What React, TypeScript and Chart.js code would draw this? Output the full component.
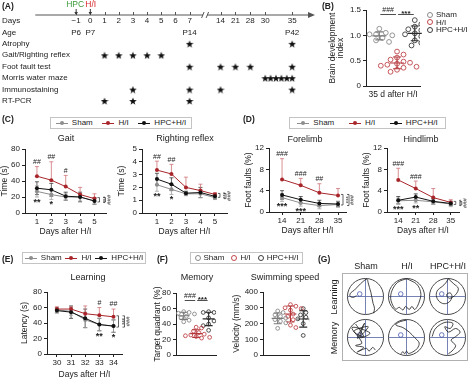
import React, { useEffect, useRef } from 'react';
import { Chart, registerables } from 'chart.js';

Chart.register(...registerables);

const FONT = "'Liberation Sans', Arial, Helvetica, sans-serif";
Chart.defaults.font.family = FONT;
Chart.defaults.color = '#222';

const INK = '#222222';
const C_SHAM = '#8e8e8e';
const C_HI = '#a8262b';
const C_HPC = '#111111';
const C_SHAM_ERR = '#a0a0a0';
const C_HI_ERR = '#cf7276';
const C_HPC_ERR = '#3a3a3a';
const C_DOT_SHAM = '#8a8a8a';
const C_DOT_HI = '#c0464b';
const C_DOT_HPC = '#3c3c3c';

const TICK = 8;
const ATITLE = 8.5;

const groupLabels = ['Sham', 'H/I', 'HPC+H/I'];

// ---------- Panel A : timeline ----------
const timelineRows = ['Days', 'Age', 'Atrophy', 'Gait/Righting reflex', 'Foot fault test', 'Morris water maze', 'Immunostaining', 'RT-PCR'];
const timelineTickDays = [-1, 0, 1, 2, 3, 4, 5, 6, 7, 14, 21, 28, 30, 35];
const ageDays = [-1, 0, 7, 35];
const ageLabels = ['P6', 'P7', 'P14', 'P42'];
const treatmentDays = [-1, 0];
const treatmentLabels = ['HPC', 'H/I'];
const atrophyDays = [7, 35];
const gaitTestDays = [1, 2, 3, 4, 5];
const footFaultDays = [7, 14, 21, 28, 35];
const morrisDays = [30, 31, 32, 33, 34, 35];
const immunoDays = [3, 7, 14, 35];
const rtpcrDays = [1, 3, 7];
// broken timeline axis: anchor days and their axis units
const axisAnchorDays = [-1, 7, 14, 28, 30, 35];
const axisAnchorUnits = [0, 8, 10.18, 12.28, 13.33, 15.23];

// ---------- Panel B ----------
const bdiSham = [1.13, 1.05, 1.02, 1.02, 1.0, 0.97, 0.95, 0.9, 0.87];
const bdiHI = [0.68, 0.62, 0.56, 0.52, 0.48, 0.46, 0.44, 0.42, 0.4, 0.38, 0.36, 0.32, 0.28];
const bdiHPC = [1.3, 1.22, 1.17, 1.12, 1.1, 1.06, 1.04, 1.02, 0.98, 0.95, 0.9, 0.85, 0.8];

// ---------- Panel C ----------
const gaitDays = [1, 2, 3, 4, 5];
const gaitSham = [27, 23, 20, 20, 15];
const gaitShamSd = [7, 6, 4, 5, 4];
const gaitHI = [46, 41, 33, 23, 18];
const gaitHISd = [12, 23, 14, 9, 6];
const gaitHPC = [31, 29, 21, 20, 15];
const gaitHPCSd = [8, 8, 5, 6, 4];
const gaitHash = ['##', '##', '#', '', ''];
const gaitStar = ['**', '*', '', '', ''];

const rightSham = [2.2, 1.85, 1.5, 1.5, 1.2];
const rightShamSd = [0.5, 0.4, 0.15, 0.3, 0.15];
const rightHI = [3.35, 3.05, 2.0, 1.75, 1.45];
const rightHISd = [0.7, 0.75, 0.8, 0.5, 0.15];
const rightHPC = [2.65, 2.25, 1.55, 1.6, 1.3];
const rightHPCSd = [0.45, 0.5, 0.15, 0.4, 0.2];
const rightHash = ['##', '##', '', '', ''];
const rightStar = ['**', '*', '', '', ''];

// ---------- Panel D ----------
const ffDays = [14, 21, 28, 35];
const foreSham = [2.7, 1.7, 1.2, 1.4];
const foreShamSd = [0.7, 0.6, 0.6, 0.5];
const foreHI = [6.1, 5.0, 3.6, 3.1];
const foreHISd = [3.9, 1.3, 1.7, 1.3];
const foreHPC = [3.2, 2.3, 1.6, 1.5];
const foreHPCSd = [0.8, 0.6, 0.6, 0.5];
const foreHash = ['###', '###', '##', ''];
const foreStar = ['***', '***', '', ''];

const hindSham = [2.1, 2.2, 1.9, 1.5];
const hindShamSd = [0.5, 0.5, 0.5, 0.5];
const hindHI = [6.0, 4.4, 2.7, 1.8];
const hindHISd = [2.2, 1.4, 1.7, 0.5];
const hindHPC = [2.2, 2.8, 2.0, 1.6];
const hindHPCSd = [0.7, 0.6, 0.5, 0.4];
const hindHash = ['###', '###', '', ''];
const hindStar = ['***', '**', '', ''];

// ---------- Panel E ----------
const learnDays = [30, 31, 32, 33, 34];
const learnSham = [57, 55, 44, 38, 36];
const learnShamSd = [3, 5, 10, 8, 8];
const learnHI = [58, 58, 52, 50, 48];
const learnHISd = [3, 3, 10, 10, 10];
const learnHPC = [56, 54, 46, 38, 36];
const learnHPCSd = [3, 8, 12, 8, 8];
const learnHash = ['', '', '', '#', '##'];
const learnStar = ['', '', '', '**', '*'];

// ---------- Panel F ----------
const memSham = [56, 55, 54, 53, 52, 50, 48, 45, 43];
const memHI = [36, 35, 31, 29, 27, 26, 25, 24, 23, 22];
const memHPC = [56, 55, 55, 52, 48, 44, 40, 38, 32];
const swimSham = [280, 270, 255, 245, 235, 225, 215, 205, 170];
const swimHI = [320, 310, 300, 295, 285, 260, 245, 225, 190, 175];
const swimHPC = [295, 270, 255, 240, 230, 220, 200, 125];

// ---------- Panel G : swim paths (unit-circle coordinates) ----------
const mazeCols = ['Sham', 'H/I', 'HPC+H/I'];
const mazeRows = ['Learning', 'Memory'];
const mazePlatform = [-0.32, 0.14];
const pathShamLearn = [[-0.5, 0.05], [-0.68, -0.05], [-0.86, 0.02], [-0.82, 0.2], [-0.62, 0.35], [-0.4, 0.58], [-0.15, 0.82], [0.08, 0.96], [0.15, 0.75], [0.22, 0.5], [0.3, 0.22], [0.36, -0.08], [0.42, -0.38], [0.5, -0.65], [0.45, -0.93]];
const pathHILearn = [[0.02, 0.98], [0.3, 0.85], [0.55, 0.7], [0.72, 0.45], [0.8, 0.1], [0.72, -0.25], [0.6, -0.55], [0.45, -0.72], [0.3, -0.55], [0.15, -0.72], [-0.05, -0.55], [-0.2, -0.75], [-0.4, -0.6], [-0.6, -0.7], [-0.8, -0.4], [-0.88, 0.0], [-0.75, 0.45], [-0.5, 0.78], [-0.2, 0.92], [0.02, 0.98]];
const pathHPCLearn = [[0.05, 0.98], [-0.1, 0.75], [-0.3, 0.55], [-0.55, 0.35], [-0.62, 0.05], [-0.48, -0.25], [-0.2, -0.4], [0.1, -0.3], [0.25, 0.0], [0.15, 0.2], [-0.05, 0.1], [0.1, -0.1], [0.45, 0.1], [0.6, 0.45], [0.35, 0.7], [0.05, 0.98]];
const pathShamMem = [[-0.55, 0.75], [-0.1, 0.05], [-0.65, 0.35], [0.15, 0.6], [-0.45, -0.05], [-0.05, 0.8], [-0.3, 0.0], [0.25, 0.25], [-0.75, 0.55], [-0.2, -0.3], [-0.55, -0.45], [-0.1, -0.55], [-0.45, -0.8], [0.05, -0.6], [0.2, -0.75], [0.4, -0.55], [0.55, -0.7]];
const pathHIMem = [[0.0, 0.96], [-0.35, 0.88], [-0.6, 0.7], [-0.2, 0.55], [0.15, 0.3], [0.45, 0.0], [0.7, -0.3], [0.6, -0.6], [0.35, -0.8], [0.1, -0.88], [0.0, -0.75], [-0.1, -0.9], [-0.2, -0.78], [-0.3, -0.9]];
const pathHPCMem = [[-0.85, 0.05], [-0.7, 0.45], [-0.4, 0.72], [-0.05, 0.85], [0.3, 0.78], [0.15, 0.5], [-0.15, 0.6], [0.05, 0.3], [0.45, 0.5], [0.7, 0.3], [0.45, 0.05], [0.2, -0.15], [0.45, -0.45], [0.25, -0.75], [0.05, -0.9]];
const mazePaths = [[pathShamLearn, pathHILearn, pathHPCLearn], [pathShamMem, pathHIMem, pathHPCMem]];

// ================= helpers =================
type Area = { L: number; T: number; R: number; B: number };

function dayToUnit(d: number) {
  const ds = axisAnchorDays, us = axisAnchorUnits;
  if (d <= ds[0]) return us[0] + (d - ds[0]);
  for (let i = 1; i < ds.length; i++) {
    if (d <= ds[i]) {
      const t = (d - ds[i - 1]) / (ds[i] - ds[i - 1]);
      return us[i - 1] + t * (us[i] - us[i - 1]);
    }
  }
  const n = ds.length - 1;
  return us[n] + ((d - ds[n]) * (us[n] - us[n - 1])) / (ds[n] - ds[n - 1]);
}

function makeStar(size: number) {
  const c = document.createElement('canvas');
  c.width = size;
  c.height = size;
  const g = c.getContext('2d') as CanvasRenderingContext2D;
  g.fillStyle = '#111';
  g.beginPath();
  const cx = size / 2, cy = size / 2 + 0.4, ro = size / 2, ri = ro * 0.42;
  for (let k = 0; k < 10; k++) {
    const r = k % 2 === 0 ? ro : ri;
    const a = -Math.PI / 2 + (k * Math.PI) / 5;
    g.lineTo(cx + r * Math.cos(a), cy + r * Math.sin(a));
  }
  g.closePath();
  g.fill();
  return c;
}

// deterministic beeswarm layout of the dots of one group
function swarm(values: number[], center: number, pxPerY: number, pxPerX: number, diam: number) {
  const placed: { x: number; y: number }[] = [];
  const sorted = values.slice().sort((a, b) => b - a);
  for (const v of sorted) {
    const py = v * pxPerY;
    let chosen = 0;
    for (let k = 0; k < 30; k++) {
      const off = k === 0 ? 0 : (k % 2 === 1 ? 1 : -1) * Math.ceil(k / 2) * diam * 0.55;
      if (placed.every((p) => Math.hypot(p.x - off, p.y - py) >= diam * 0.95)) {
        chosen = off;
        break;
      }
    }
    placed.push({ x: chosen, y: py });
  }
  return placed.map((p) => ({ x: center + p.x / pxPerX, y: p.y / pxPerY }));
}

function canvasBox(a: Area, yW: number, xH: number, padTop: number, padRight: number, padBottom: number) {
  const left = a.L - yW;
  const top = a.T - padTop;
  return { left, top, width: a.R + padRight - left, height: a.B + xH + padBottom - top };
}

const axisGrid = { display: true, drawOnChartArea: false, drawTicks: true, tickLength: 3, color: INK, lineWidth: 1 };
const axisBorder = { display: true, color: INK, width: 1 };

// ================= plugins =================
const timelinePlugin = {
  id: 'timeline',
  afterDraw(chart: any) {
    const { ctx, chartArea: ca, scales } = chart;
    const x = scales.x, y = scales.y;
    const ly = ca.top - 6;
    const startX = x.getPixelForValue(dayToUnit(-1) - 2.88);
    ctx.save();
    ctx.strokeStyle = '#555';
    ctx.fillStyle = '#555';
    ctx.lineWidth = 1;
    ctx.beginPath();
    ctx.moveTo(startX, ly);
    ctx.lineTo(ca.right - 6, ly);
    ctx.stroke();
    ctx.beginPath();
    ctx.moveTo(ca.right, ly);
    ctx.lineTo(ca.right - 7, ly - 3);
    ctx.lineTo(ca.right - 7, ly + 3);
    ctx.closePath();
    ctx.fill();
    ctx.beginPath();
    for (const d of timelineTickDays) {
      const px = Math.round(x.getPixelForValue(dayToUnit(d))) + 0.5;
      ctx.moveTo(px, ly - 3);
      ctx.lineTo(px, ly);
    }
    ctx.stroke();
    // axis break
    const bx = x.getPixelForValue((dayToUnit(7) + dayToUnit(14)) / 2);
    ctx.fillStyle = '#fff';
    ctx.fillRect(bx - 2, ly - 2, 4, 4);
    ctx.beginPath();
    ctx.moveTo(bx - 3.5, ly + 3);
    ctx.lineTo(bx - 1, ly - 3);
    ctx.moveTo(bx + 1, ly + 3);
    ctx.lineTo(bx + 3.5, ly - 3);
    ctx.stroke();
    // day and age labels
    ctx.fillStyle = INK;
    ctx.font = `8px ${FONT}`;
    ctx.textAlign = 'center';
    ctx.textBaseline = 'middle';
    const yDays = y.getPixelForValue(0), yAge = y.getPixelForValue(1);
    for (const d of timelineTickDays) {
      ctx.fillText(d < 0 ? '\u2212' + Math.abs(d) : String(d), x.getPixelForValue(dayToUnit(d)), yDays);
    }
    ageDays.forEach((d, i) => ctx.fillText(ageLabels[i], x.getPixelForValue(dayToUnit(d)), yAge));
    // treatments
    const tColors = ['#3a9a3a', '#d8262c'];
    ctx.font = `8.5px ${FONT}`;
    treatmentDays.forEach((d, i) => {
      const px = x.getPixelForValue(dayToUnit(d));
      ctx.fillStyle = tColors[i];
      ctx.textAlign = i === 0 ? 'right' : 'left';
      ctx.fillText(treatmentLabels[i], i === 0 ? px + 8 : px - 5, 4.5);
      ctx.strokeStyle = '#333';
      ctx.fillStyle = '#333';
      ctx.beginPath();
      ctx.moveTo(px, 9);
      ctx.lineTo(px, ly - 1);
      ctx.stroke();
      ctx.beginPath();
      ctx.moveTo(px, ly);
      ctx.lineTo(px - 1.8, ly - 3);
      ctx.lineTo(px + 1.8, ly - 3);
      ctx.closePath();
      ctx.fill();
    });
    ctx.restore();
  },
};

const errorBarPlugin = {
  id: 'errbars',
  beforeDatasetsDraw(chart: any) {
    const { ctx } = chart;
    const y = chart.scales.y;
    chart.data.datasets.forEach((ds: any, i: number) => {
      if (!ds.sd) return;
      const meta = chart.getDatasetMeta(i);
      ctx.save();
      ctx.strokeStyle = ds.errColor;
      ctx.lineWidth = 0.8;
      meta.data.forEach((pt: any, j: number) => {
        const v = ds.data[j].y, s = ds.sd[j];
        const top = y.getPixelForValue(v + (ds.dir !== 'down' ? s : 0));
        const bot = y.getPixelForValue(v - (ds.dir !== 'up' ? s : 0));
        ctx.beginPath();
        ctx.moveTo(pt.x, top);
        ctx.lineTo(pt.x, bot);
        if (ds.dir !== 'down') {
          ctx.moveTo(pt.x - 2, top);
          ctx.lineTo(pt.x + 2, top);
        }
        if (ds.dir !== 'up') {
          ctx.moveTo(pt.x - 2, bot);
          ctx.lineTo(pt.x + 2, bot);
        }
        ctx.stroke();
      });
      ctx.restore();
    });
  },
};

const lineMarksPlugin = {
  id: 'linemarks',
  afterDatasetsDraw(chart: any, _a: any, opts: any) {
    const { ctx } = chart;
    const x = chart.scales.x, y = chart.scales.y;
    const dss = chart.data.datasets as any[];
    const hi = dss.find((d) => d.role === 'hi');
    const others = dss.filter((d) => d.role !== 'hi');
    if (!hi || !opts) return;
    ctx.save();
    ctx.fillStyle = INK;
    ctx.textAlign = 'center';
    hi.data.forEach((p: any, j: number) => {
      const px = x.getPixelForValue(p.x);
      const h = opts.hash && opts.hash[j];
      if (h) {
        ctx.font = `7px ${FONT}`;
        ctx.textBaseline = 'bottom';
        ctx.fillText(h, px, y.getPixelForValue(p.y + hi.sd[j]) - 1);
      }
      const s = opts.star && opts.star[j];
      if (s) {
        const low = Math.max(...others.map((d) => y.getPixelForValue(d.data[j].y - (d.dir === 'up' ? 0 : d.sd[j]))));
        ctx.font = `bold 9px ${FONT}`;
        ctx.textBaseline = 'top';
        ctx.fillText(s, px, low + 1);
      }
    });
    if (opts.right) {
      const n = hi.data.length - 1;
      const px = x.getPixelForValue(hi.data[n].x);
      const yHi = y.getPixelForValue(hi.data[n].y);
      const ys = others.map((d) => y.getPixelForValue(d.data[n].y));
      const bracket = (bx: number, y1: number, y2: number, text: string) => {
        const top = Math.min(y1, y2) - 1, bot = Math.max(y1, y2) + 1;
        ctx.strokeStyle = INK;
        ctx.lineWidth = 0.7;
        ctx.beginPath();
        ctx.moveTo(bx - 2, top);
        ctx.lineTo(bx, top);
        ctx.lineTo(bx, bot);
        ctx.lineTo(bx - 2, bot);
        ctx.stroke();
        ctx.save();
        ctx.translate(bx + 3, (top + bot) / 2);
        ctx.rotate(Math.PI / 2);
        ctx.font = `6px ${FONT}`;
        ctx.textBaseline = 'middle';
        ctx.fillText(text, 0, 0);
        ctx.restore();
      };
      bracket(px + 5, yHi, ys[0], opts.right[0]);
      bracket(px + 11, yHi, ys[1], opts.right[1]);
    }
    ctx.restore();
  },
};

const meanSdPlugin = {
  id: 'meansd',
  afterDatasetsDraw(chart: any, _a: any, opts: any) {
    const { ctx } = chart;
    const x = chart.scales.x, y = chart.scales.y;
    ctx.save();
    chart.data.datasets.forEach((ds: any) => {
      const vals: number[] = ds.values;
      const n = vals.length;
      const m = vals.reduce((a, b) => a + b, 0) / n;
      const sd = Math.sqrt(vals.reduce((a, b) => a + (b - m) * (b - m), 0) / (n - 1));
      const px = x.getPixelForValue(ds.group);
      const pm = y.getPixelForValue(m), pt = y.getPixelForValue(m + sd), pb = y.getPixelForValue(m - sd);
      ctx.strokeStyle = ds.lineColor;
      ctx.lineWidth = 1.1;
      ctx.beginPath();
      ctx.moveTo(px - opts.meanHalf, pm);
      ctx.lineTo(px + opts.meanHalf, pm);
      ctx.moveTo(px, pt);
      ctx.lineTo(px, pb);
      ctx.moveTo(px - opts.capHalf, pt);
      ctx.lineTo(px + opts.capHalf, pt);
      ctx.moveTo(px - opts.capHalf, pb);
      ctx.lineTo(px + opts.capHalf, pb);
      ctx.stroke();
    });
    if (opts.sigs) {
      const py = Math.round(y.getPixelForValue(opts.sigY)) + 0.5;
      ctx.fillStyle = INK;
      ctx.strokeStyle = INK;
      ctx.lineWidth = 0.8;
      ctx.textAlign = 'center';
      ctx.textBaseline = 'bottom';
      opts.sigs.forEach((s: any) => {
        const a = x.getPixelForValue(s.from) + 1, b = x.getPixelForValue(s.to) - 1;
        ctx.beginPath();
        ctx.moveTo(a, py);
        ctx.lineTo(b, py);
        ctx.stroke();
        ctx.font = s.text.indexOf('*') >= 0 ? `bold 8px ${FONT}` : `7px ${FONT}`;
        ctx.fillText(s.text, (a + b) / 2, s.text.indexOf('*') >= 0 ? py + 3 : py - 0.5);
      });
    }
    ctx.restore();
  },
};

const mazePlugin = {
  id: 'maze',
  beforeDatasetsDraw(chart: any) {
    const { ctx } = chart;
    const x = chart.scales.x, y = chart.scales.y;
    const R = 0.44;
    const rPx = x.getPixelForValue(R) - x.getPixelForValue(0);
    ctx.save();
    mazeRows.forEach((_r, ri) => {
      mazeCols.forEach((_c, ci) => {
        const cx = x.getPixelForValue(ci + 0.5), cy = y.getPixelForValue(1 - ri + 0.5);
        ctx.strokeStyle = '#6574aa';
        ctx.lineWidth = 0.9;
        ctx.beginPath();
        ctx.moveTo(cx - rPx, cy);
        ctx.lineTo(cx + rPx, cy);
        ctx.moveTo(cx, cy - rPx);
        ctx.lineTo(cx, cy + rPx);
        ctx.stroke();
        ctx.strokeStyle = '#4a4a4a';
        ctx.lineWidth = 1;
        ctx.beginPath();
        ctx.arc(cx, cy, rPx, 0, Math.PI * 2);
        ctx.stroke();
        ctx.strokeStyle = '#4a5ab0';
        ctx.lineWidth = 0.8;
        ctx.beginPath();
        ctx.arc(cx + mazePlatform[0] * rPx, cy - mazePlatform[1] * rPx, 2.3, 0, Math.PI * 2);
        ctx.stroke();
      });
    });
    ctx.restore();
  },
};

// ================= chart configs =================
function timelineConfig() {
  const star = makeStar(8);
  const rows: [string, number[]][] = [
    ['Atrophy', atrophyDays],
    ['Gait/Righting reflex', gaitTestDays],
    ['Foot fault test', footFaultDays],
    ['Morris water maze', morrisDays],
    ['Immunostaining', immunoDays],
    ['RT-PCR', rtpcrDays],
  ];
  return {
    type: 'scatter',
    data: {
      datasets: rows.map(([row, days]) => ({
        data: days.map((d) => ({ x: dayToUnit(d), y: row })),
        pointStyle: star,
        pointRadius: 4,
        clip: false,
      })),
    },
    options: {
      animation: false,
      responsive: false,
      events: [],
      layout: { padding: { left: 2, right: 4, top: 21, bottom: 9 } },
      plugins: { legend: { display: false }, tooltip: { enabled: false } },
      scales: {
        x: { type: 'linear', display: false, min: 2.175, max: 16.84 },
        y: {
          type: 'category',
          labels: timelineRows,
          offset: false,
          grid: { display: false },
          border: { display: false },
          ticks: { crossAlign: 'far', padding: 0, autoSkip: false, font: { size: 8 }, color: INK },
          afterFit: (s: any) => { s.width = 105; },
        },
      },
    },
    plugins: [timelinePlugin],
  };
}

type SeriesSpec = { label: string; role: string; values: number[]; sd: number[]; color: string; errColor: string; dir: string };

function series(values: number[][], sds: number[][]): SeriesSpec[] {
  // order: HPC+H/I, H/I, Sham (first drawn on top)
  return [
    { label: groupLabels[2], role: 'hpc', values: values[2], sd: sds[2], color: C_HPC, errColor: C_HPC_ERR, dir: 'both' },
    { label: groupLabels[1], role: 'hi', values: values[1], sd: sds[1], color: C_HI, errColor: C_HI_ERR, dir: 'up' },
    { label: groupLabels[0], role: 'sham', values: values[0], sd: sds[0], color: C_SHAM, errColor: C_SHAM_ERR, dir: 'both' },
  ];
}

function lineConfig(p: {
  xs: number[]; xMin: number; xMax: number; yMax: number; yStep: number; yTitle: string; xTitle: string;
  ser: SeriesSpec[]; hash: string[]; star: string[]; yW: number; xH: number; padTop: number; padRight: number;
}) {
  return {
    type: 'line',
    data: {
      datasets: p.ser.map((s) => ({
        label: s.label,
        role: s.role,
        sd: s.sd,
        dir: s.dir,
        errColor: s.errColor,
        data: p.xs.map((x, i) => ({ x, y: s.values[i] })),
        borderColor: s.color,
        backgroundColor: s.color,
        borderWidth: 1,
        pointRadius: 2,
        pointBorderWidth: 0,
        tension: 0,
      })),
    },
    options: {
      animation: false,
      responsive: false,
      events: [],
      layout: { padding: { left: 0, top: p.padTop, right: p.padRight, bottom: 2 } },
      plugins: {
        legend: { display: false },
        tooltip: { enabled: false },
        linemarks: { hash: p.hash, star: p.star, right: ['***', '###'] },
      },
      scales: {
        x: {
          type: 'linear',
          min: p.xMin,
          max: p.xMax,
          afterBuildTicks: (s: any) => { s.ticks = p.xs.map((v) => ({ value: v })); },
          afterFit: (s: any) => { s.height = p.xH; },
          grid: axisGrid,
          border: axisBorder,
          ticks: { padding: 1, autoSkip: false, maxRotation: 0, font: { size: TICK }, color: INK },
          title: { display: true, text: p.xTitle, padding: 0, font: { size: ATITLE }, color: INK },
        },
        y: {
          type: 'linear',
          min: 0,
          max: p.yMax,
          afterFit: (s: any) => { s.width = p.yW; },
          grid: axisGrid,
          border: axisBorder,
          ticks: { stepSize: p.yStep, padding: 2, font: { size: TICK }, color: INK },
          title: { display: true, text: p.yTitle, padding: 0, font: { size: ATITLE }, color: INK },
        },
      },
    },
    plugins: [errorBarPlugin, lineMarksPlugin],
  };
}

function dotConfig(p: {
  area: Area; groups: number[][]; xMin: number; xMax: number; yMax: number; yStep: number; yTitle: string | string[];
  xTitle: string; sigY: number; diam: number; yW: number; xH: number; padTop: number; padRight: number;
  meanHalf: number; capHalf: number; fmt?: (v: number) => string; titleLH?: number;
}) {
  const pxPerY = (p.area.B - p.area.T) / p.yMax;
  const pxPerX = (p.area.R - p.area.L) / (p.xMax - p.xMin);
  const dotColors = [C_DOT_SHAM, C_DOT_HI, C_DOT_HPC];
  const lineColors = ['#7a7a7a', '#b4373c', '#2a2a2a'];
  return {
    type: 'scatter',
    data: {
      datasets: p.groups.map((vals, i) => ({
        label: groupLabels[i],
        values: vals,
        group: i + 1,
        lineColor: lineColors[i],
        data: swarm(vals, i + 1, pxPerY, pxPerX, p.diam),
        pointRadius: p.diam / 2 - 0.6,
        pointBorderWidth: 0.9,
        borderColor: dotColors[i],
        backgroundColor: 'rgba(255,255,255,0)',
      })),
    },
    options: {
      animation: false,
      responsive: false,
      events: [],
      layout: { padding: { left: 0, top: p.padTop, right: p.padRight, bottom: 2 } },
      plugins: {
        legend: { display: false },
        tooltip: { enabled: false },
        meansd: {
          meanHalf: p.meanHalf,
          capHalf: p.capHalf,
          sigY: p.sigY,
          sigs: p.sigY > 0 ? [{ from: 1, to: 2, text: '###' }, { from: 2, to: 3, text: '***' }] : null,
        },
      },
      scales: {
        x: {
          type: 'linear',
          min: p.xMin,
          max: p.xMax,
          afterFit: (s: any) => { s.height = p.xH; },
          grid: { display: false },
          border: axisBorder,
          ticks: { display: false },
          title: { display: !!p.xTitle, text: p.xTitle, padding: 0, font: { size: ATITLE }, color: INK },
        },
        y: {
          type: 'linear',
          min: 0,
          max: p.yMax,
          afterFit: (s: any) => { s.width = p.yW; },
          grid: axisGrid,
          border: axisBorder,
          ticks: { stepSize: p.yStep, padding: 2, font: { size: TICK }, color: INK, callback: p.fmt || ((v: any) => String(v)) },
          title: { display: true, text: p.yTitle, padding: 0, font: { size: ATITLE, lineHeight: p.titleLH || 1.2 }, color: INK },
        },
      },
    },
    plugins: [meanSdPlugin],
  };
}

function mazeConfig() {
  const R = 0.44;
  const datasets: any[] = [];
  mazePaths.forEach((row, ri) => {
    row.forEach((path, ci) => {
      datasets.push({
        data: path.map(([px, py]) => ({ x: ci + 0.5 + px * R, y: 1 - ri + 0.5 + py * R })),
        showLine: true,
        pointRadius: 0,
        borderColor: '#1a1a1a',
        borderWidth: 0.8,
        tension: 0.35,
      });
    });
  });
  return {
    type: 'scatter',
    data: { datasets },
    options: {
      animation: false,
      responsive: false,
      events: [],
      layout: { padding: 0 },
      plugins: { legend: { display: false }, tooltip: { enabled: false } },
      scales: {
        x: { type: 'linear', display: false, min: 0, max: 3 },
        y: { type: 'linear', display: false, min: 0, max: 2 },
      },
    },
    plugins: [mazePlugin],
  };
}

// ================= React =================
function ChartCanvas(props: { left: number; top: number; width: number; height: number; build: () => any }) {
  const ref = useRef<HTMLCanvasElement>(null);
  useEffect(() => {
    const chart = new Chart(ref.current as HTMLCanvasElement, props.build());
    return () => chart.destroy();
  }, []);
  return (
    <canvas
      ref={ref}
      width={props.width}
      height={props.height}
      style={{ position: 'absolute', left: props.left, top: props.top, width: props.width, height: props.height }}
    />
  );
}

function Txt(props: { x: number; y: number; children: any; size?: number; bold?: boolean; color?: string; anchor?: string; rotate?: number }) {
  const { x, y, size = 9, bold = false, color = INK, anchor = 'center', rotate = 0 } = props;
  const tx = anchor === 'center' ? '-50%' : anchor === 'left' ? '0' : '-100%';
  return (
    <div
      style={{
        position: 'absolute', left: x, top: y, transform: `translate(${tx}, -50%) rotate(${rotate}deg)`,
        fontSize: size, fontWeight: bold ? 700 : 400, color, whiteSpace: 'nowrap', lineHeight: 1,
      }}
    >
      {props.children}
    </div>
  );
}

const legendLineColors = [C_SHAM, C_HI, C_HPC];
const legendDotColors = [C_DOT_SHAM, C_DOT_HI, C_DOT_HPC];

function LineMark({ color }: { color: string }) {
  return (
    <span style={{ position: 'relative', display: 'inline-block', width: 12, height: 6, marginRight: 4 }}>
      <span style={{ position: 'absolute', left: 0, right: 0, top: 2.5, height: 1, background: color }} />
      <span style={{ position: 'absolute', left: 4, top: 1, width: 4, height: 4, borderRadius: 2, background: color }} />
    </span>
  );
}

function CircleMark({ color }: { color: string }) {
  return <span style={{ display: 'inline-block', width: 4, height: 4, border: `1px solid ${color}`, borderRadius: '50%', marginRight: 3 }} />;
}

function LegendBox(props: { left: number; top: number; width: number; circles?: boolean }) {
  return (
    <div
      style={{
        position: 'absolute', left: props.left, top: props.top, width: props.width, height: 12, boxSizing: 'border-box',
        border: '1px solid #c4c4c4', display: 'flex', alignItems: 'center', justifyContent: 'space-around', fontSize: 8, lineHeight: '10px',
      }}
    >
      {groupLabels.map((g, i) => (
        <span key={g} style={{ display: 'flex', alignItems: 'center' }}>
          {props.circles ? <CircleMark color={legendDotColors[i]} /> : <LineMark color={legendLineColors[i]} />}
          {g}
        </span>
      ))}
    </div>
  );
}

export default function App() {
  const gaitArea: Area = { L: 25, T: 149, R: 106, B: 213 };
  const rightArea: Area = { L: 142, T: 149, R: 227, B: 213 };
  const foreArea: Area = { L: 269, T: 148, R: 346, B: 212 };
  const hindArea: Area = { L: 387, T: 148, R: 459, B: 212 };
  const learnArea: Area = { L: 47, T: 292, R: 122, B: 356 };
  const bArea: Area = { L: 366, T: 10, R: 421, B: 86 };
  const memArea: Area = { L: 176, T: 293, R: 217, B: 356 };
  const swimArea: Area = { L: 263, T: 292, R: 310, B: 356 };

  const gaitBox = canvasBox(gaitArea, 25, 24, 12, 14, 2);
  const rightBox = canvasBox(rightArea, 25, 24, 12, 14, 2);
  const foreBox = canvasBox(foreArea, 25, 24, 12, 14, 2);
  const hindBox = canvasBox(hindArea, 25, 24, 12, 13, 2);
  const learnBox = canvasBox(learnArea, 27, 26, 12, 14, 0);
  const bBox = canvasBox(bArea, 38, 14, 10, 4, 2);
  const memBox = canvasBox(memArea, 23, 4, 12, 4, 2);
  const swimBox = canvasBox(swimArea, 31, 4, 12, 4, 2);

  return (
    <div style={{ position: 'fixed', left: 0, top: 0, width: 474, height: 382, background: '#fff', fontFamily: FONT, color: INK, overflow: 'hidden' }}>
      {/* Panel A */}
      <ChartCanvas left={0} top={0} width={320} height={110} build={timelineConfig} />
      <Txt x={2} y={6} anchor="left" bold size={8.5}>(A)</Txt>

      {/* Panel B */}
      <ChartCanvas
        {...bBox}
        build={() =>
          dotConfig({
            area: bArea, groups: [bdiSham, bdiHI, bdiHPC], xMin: 0.25, xMax: 3.3, yMax: 1.5, yStep: 0.5,
            yTitle: ['Brain development', 'index'], xTitle: '35 d after H/I', sigY: 1.42, diam: 6, yW: 38, xH: 14,
            padTop: 10, padRight: 4, meanHalf: 7, capHalf: 4, titleLH: 1.0,
            fmt: (v: number) => (v === 0 ? '0' : Number(v).toFixed(1)),
          })
        }
      />
      <Txt x={322} y={6} anchor="left" bold size={8.5}>(B)</Txt>
      {groupLabels.map((g, i) => (
        <div key={g} style={{ position: 'absolute', left: 427, top: 10 + i * 7.5, display: 'flex', alignItems: 'center', fontSize: 8, lineHeight: '9px' }}>
          <CircleMark color={legendDotColors[i]} />
          {g}
        </div>
      ))}

      {/* Panel C */}
      <Txt x={2} y={119} anchor="left" bold size={8.5}>(C)</Txt>
      <LegendBox left={50} top={117} width={142} />
      <Txt x={66} y={138}>Gait</Txt>
      <Txt x={185} y={138}>Righting reflex</Txt>
      <ChartCanvas
        {...gaitBox}
        build={() =>
          lineConfig({
            xs: gaitDays, xMin: 0.17, xMax: 5.8, yMax: 80, yStep: 20, yTitle: 'Time (s)', xTitle: 'Days after H/I',
            ser: series([gaitSham, gaitHI, gaitHPC], [gaitShamSd, gaitHISd, gaitHPCSd]), hash: gaitHash, star: gaitStar,
            yW: 25, xH: 24, padTop: 12, padRight: 14,
          })
        }
      />
      <ChartCanvas
        {...rightBox}
        build={() =>
          lineConfig({
            xs: gaitDays, xMin: -0.03, xMax: 5.83, yMax: 5, yStep: 1, yTitle: 'Time (s)', xTitle: 'Days after H/I',
            ser: series([rightSham, rightHI, rightHPC], [rightShamSd, rightHISd, rightHPCSd]), hash: rightHash, star: rightStar,
            yW: 25, xH: 24, padTop: 12, padRight: 14,
          })
        }
      />

      {/* Panel D */}
      <Txt x={243} y={119} anchor="left" bold size={8.5}>(D)</Txt>
      <LegendBox left={289} top={117} width={157} />
      <Txt x={305} y={139}>Forelimb</Txt>
      <Txt x={421} y={139}>Hindlimb</Txt>
      <ChartCanvas
        {...foreBox}
        build={() =>
          lineConfig({
            xs: ffDays, xMin: 9.1, xMax: 38, yMax: 12, yStep: 4, yTitle: 'Foot faults (%)', xTitle: 'Days after H/I',
            ser: series([foreSham, foreHI, foreHPC], [foreShamSd, foreHISd, foreHPCSd]), hash: foreHash, star: foreStar,
            yW: 25, xH: 24, padTop: 12, padRight: 14,
          })
        }
      />
      <ChartCanvas
        {...hindBox}
        build={() =>
          lineConfig({
            xs: ffDays, xMin: 9.5, xMax: 38.3, yMax: 12, yStep: 4, yTitle: 'Foot faults (%)', xTitle: 'Days after H/I',
            ser: series([hindSham, hindHI, hindHPC], [hindShamSd, hindHISd, hindHPCSd]), hash: hindHash, star: hindStar,
            yW: 25, xH: 24, padTop: 12, padRight: 13,
          })
        }
      />

      {/* Panel E */}
      <Txt x={2} y={259} anchor="left" bold size={8.5}>(E)</Txt>
      <LegendBox left={22} top={252} width={124} />
      <Txt x={88} y={277}>Learning</Txt>
      <ChartCanvas
        {...learnBox}
        build={() =>
          lineConfig({
            xs: learnDays, xMin: 29.3, xMax: 34.6, yMax: 80, yStep: 20, yTitle: 'Latency (s)', xTitle: 'Days after H/I',
            ser: series([learnSham, learnHI, learnHPC], [learnShamSd, learnHISd, learnHPCSd]), hash: learnHash, star: learnStar,
            yW: 27, xH: 26, padTop: 12, padRight: 14,
          })
        }
      />

      {/* Panel F */}
      <Txt x={157} y={259} anchor="left" bold size={8.5}>(F)</Txt>
      <LegendBox left={190} top={252} width={113} circles />
      <Txt x={197} y={277}>Memory</Txt>
      <Txt x={285} y={277}>Swimming speed</Txt>
      <ChartCanvas
        {...memBox}
        build={() =>
          dotConfig({
            area: memArea, groups: [memSham, memHI, memHPC], xMin: 0.38, xMax: 3.6, yMax: 80, yStep: 20,
            yTitle: 'Target quadrant (%)', xTitle: '', sigY: 71, diam: 5, yW: 23, xH: 4, padTop: 12, padRight: 4,
            meanHalf: 6, capHalf: 4,
          })
        }
      />
      <ChartCanvas
        {...swimBox}
        build={() =>
          dotConfig({
            area: swimArea, groups: [swimSham, swimHI, swimHPC], xMin: -0.15, xMax: 3.46, yMax: 400, yStep: 100,
            yTitle: 'Velocity (mm/s)', xTitle: '', sigY: 0, diam: 5, yW: 31, xH: 4, padTop: 12, padRight: 4,
            meanHalf: 6, capHalf: 4,
          })
        }
      />

      {/* Panel G */}
      <Txt x={318} y={259} anchor="left" bold size={8.5}>(G)</Txt>
      {mazeCols.map((c, i) => (
        <Txt key={c} x={366 + i * 41} y={266}>{c}</Txt>
      ))}
      {mazeRows.map((r, i) => (
        <Txt key={r} x={334} y={297 + i * 41} rotate={-90}>{r}</Txt>
      ))}
      <div style={{ position: 'absolute', left: 342, top: 273, width: 126, height: 88, boxSizing: 'border-box', border: '1px solid #b0b0b0' }} />
      <ChartCanvas left={345} top={276} width={123} height={82} build={mazeConfig} />
    </div>
  );
}
